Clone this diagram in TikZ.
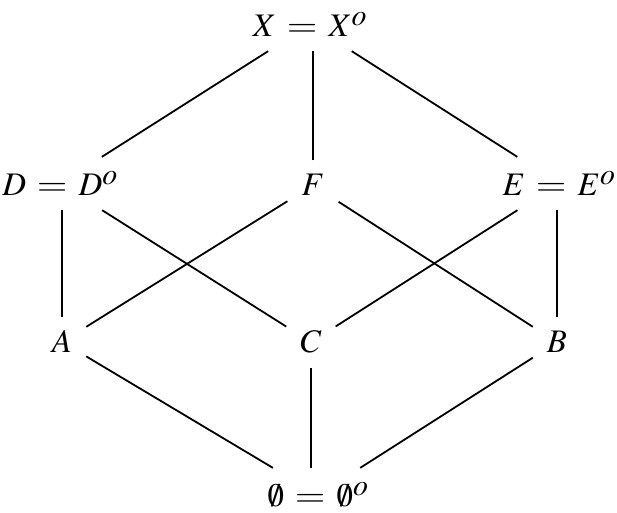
\documentclass[tikz,border=0pt]{standalone}
\usepackage{amsmath}
\usepackage{mathptmx}
\usepackage{graphicx}
\usepackage{tikz}
\usetikzlibrary{calc}
\DeclareMathSizes{33}{33}{30}{24}
\thickmuskip=6mu plus 5mu
\newcommand{\eqrel}{\mathrel{\scalebox{1.2}[1]{$=$}}}

\begin{document}
\begin{tikzpicture}[x=1bp,y=1bp,
  elem/.style={inner sep=14bp,anchor=base,font=\fontsize{33}{40}\selectfont},
  edge/.style={line width=1.8bp}]
  \useasboundingbox (0,0) rectangle (617,513);
  % top
  \node[elem] (X) at (310,476) {$X \eqrel X^o$};
  % middle row
  \node[elem] (D) at (60,317) {$D \eqrel D^o$};
  \node[elem] (F) at (313,317) {$F$};
  \node[elem] (E) at (559,317) {$E \eqrel E^o$};
  % lower row
  \node[elem] (A) at (62,160) {$A$};
  \node[elem] (C) at (311,160) {$C$};
  \node[elem] (B) at (557,160) {$B$};
  % bottom
  \node[elem] (empty) at (318,6) {$\emptyset \eqrel \emptyset^o$};
  \draw[edge] (X) -- (D);
  \draw[edge] (F) -- (F |- X.south);
  \draw[edge] (X) -- (E);
  \draw[edge] (A) -- (A |- D.south);
  \draw[edge] (D) -- (C);
  \draw[edge] (F) -- (A);
  \draw[edge] (F) -- (B);
  \draw[edge] (E) -- (C);
  \draw[edge] (B) -- (B |- E.south);
  \draw[edge] (A) -- (empty);
  \draw[edge] (C) -- (C |- empty.north);
  \draw[edge] (B) -- (empty);
\end{tikzpicture}
\end{document}
